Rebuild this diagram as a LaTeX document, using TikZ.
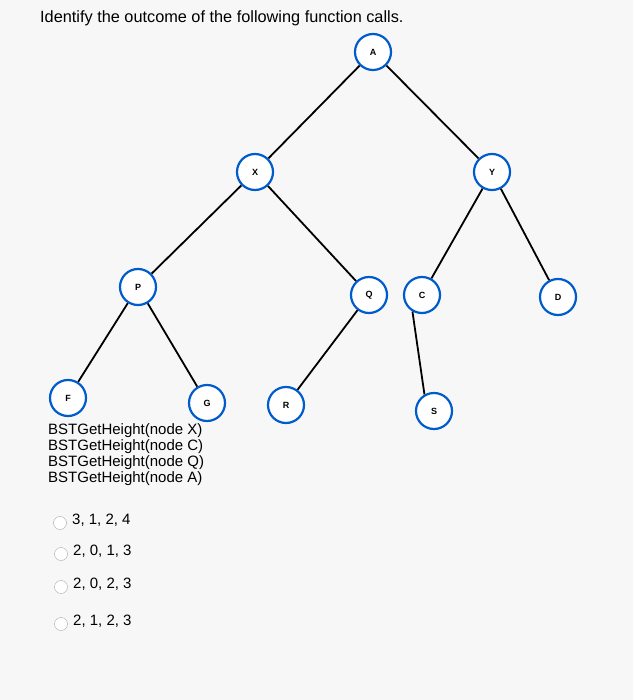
\documentclass[tikz,border=0pt]{standalone}
\usepackage{fontspec}
\setmainfont{Liberation Sans}
\begin{document}
\begin{tikzpicture}[x=1pt,y=-1pt,
  tn/.style={circle,draw=blue!55!cyan!80!black,line width=2.2pt,fill=white,minimum size=36pt,inner sep=0pt,font=\fontsize{9}{10}\selectfont\bfseries},
  edge/.style={line width=1.8pt,black},
  txt/.style={anchor=west,inner sep=0pt,font=\fontsize{15}{16}\selectfont},
  radio/.style={circle,draw=gray!70,fill=white,minimum size=13pt,inner sep=0pt}]
\useasboundingbox[fill=gray!6] (0,0) rectangle (633,700);
\node[anchor=west,inner sep=0pt,font=\fontsize{16.3}{18}\selectfont] (title) at (40,18) {Identify the outcome of the following function calls.};
\node[tn] (A) at (373,52) {A};
\node[tn] (X) at (255,172) {X};
\node[tn] (Y) at (492,172) {Y};
\node[tn] (P) at (138,287) {P};
\node[tn] (Q) at (369,295) {Q};
\node[tn] (C) at (422,295) {C};
\node[tn] (D) at (558,297) {D};
\node[tn] (F) at (68,398) {F};
\node[tn] (G) at (207,403) {G};
\node[tn] (R) at (286,405) {R};
\node[tn] (S) at (434,411) {S};
\foreach \a/\b in {A/X,A/Y,X/P,X/Q,Y/C,Y/D,P/F,P/G,Q/R}
  \draw[edge] (\a) -- (\b);
\draw[edge] (C.240) -- (S.120);
\node[txt,align=left,anchor=north west] (code) at (48,423) {BSTGetHeight(node X)\\BSTGetHeight(node C)\\BSTGetHeight(node Q)\\BSTGetHeight(node A)};
\node[radio] (r1) at (60,523) {};
\node[txt] (o1) at (72,520) {3, 1, 2, 4};
\node[radio] (r2) at (61,554) {};
\node[txt] (o2) at (73,551) {2, 0, 1, 3};
\node[radio] (r3) at (61,587) {};
\node[txt] (o3) at (73,584) {2, 0, 2, 3};
\node[radio] (r4) at (61,624) {};
\node[txt] (o4) at (73,621) {2, 1, 2, 3};
\end{tikzpicture}
\end{document}
